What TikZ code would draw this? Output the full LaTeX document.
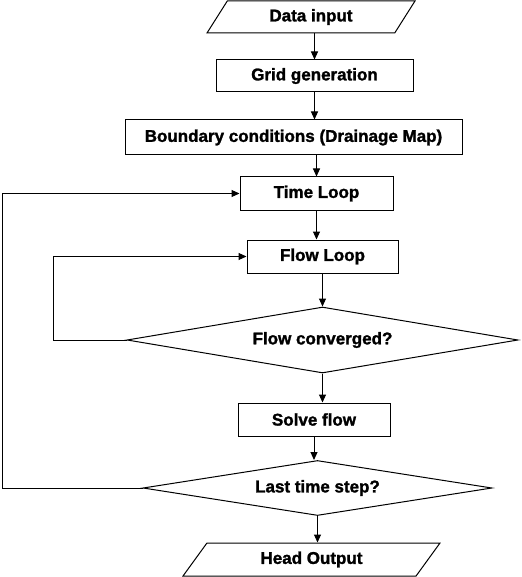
\documentclass[tikz,border=0pt]{standalone}
\usepackage{fontspec}
\setmainfont{Liberation Sans}[BoldFeatures={FakeBold=1.5}]
\usetikzlibrary{shapes.geometric,arrows.meta}
\begin{document}
\begin{tikzpicture}[x=1pt,y=-1pt,
  every node/.style={font=\fontsize{17}{20}\selectfont\bfseries, inner sep=0pt},
  box/.style={draw, line width=1pt, rectangle},
  dec/.style={draw, line width=1pt, diamond, aspect=6},
  io/.style={draw, line width=1pt, trapezium, trapezium stretches body=true},
  arr/.style={line width=1pt, -{Triangle[length=8pt,width=7pt]}},
  ln/.style={line width=1pt}]
\useasboundingbox (0,0) rectangle (521,577);
\node[io, trapezium left angle=38, trapezium right angle=142, minimum width=208pt, minimum height=32pt] (di) at (311,17) {Data input};
\node[box, minimum width=197pt, minimum height=32pt] (gg) at (314.5,76) {Grid generation};
\node[box, minimum width=337pt, minimum height=35pt] (bc) at (293.5,137.5) {Boundary conditions (Drainage Map)};
\node[box, minimum width=153pt, minimum height=33pt] (tl) at (316.5,193.5) {Time Loop};
\node[box, minimum width=151pt, minimum height=33pt] (fl) at (322.5,256.5) {Flow Loop};
\node[dec, minimum width=391pt, minimum height=66pt] (fc) at (322.5,340) {Flow converged?};
\node[box, minimum width=152pt, minimum height=33pt] (sf) at (314,419.5) {Solve flow};
\node[dec, minimum width=349pt, minimum height=55pt] (lt) at (317.5,488) {Last time step?};
\node[io, trapezium left angle=33.5, trapezium right angle=146.5, minimum width=257pt, minimum height=33pt] (ho) at (311.5,559.5) {Head Output};
\coordinate (c1) at (53,0);
\coordinate (c2) at (2,0);
\draw[arr] (di.south -| gg.north) -- (gg.north);
\draw[arr] (gg.south) -- (gg.south |- bc.north);
\draw[arr] (bc.south -| tl.north) -- (tl.north);
\draw[arr] (tl.south) -- (tl.south |- fl.north);
\draw[arr] (fl.south) -- (fc.north);
\draw[arr] (fc.south) -- (fc.south |- sf.north);
\draw[arr] (sf.south) -- (sf.south |- lt.north);
\draw[arr] (lt.south) -- (lt.south |- ho.north);
\draw[arr] (fc.west) -- (fc.west -| c1) |- (fl.west);
\draw[arr] (lt.west) -- (lt.west -| c2) |- (tl.west);
\end{tikzpicture}
\end{document}
